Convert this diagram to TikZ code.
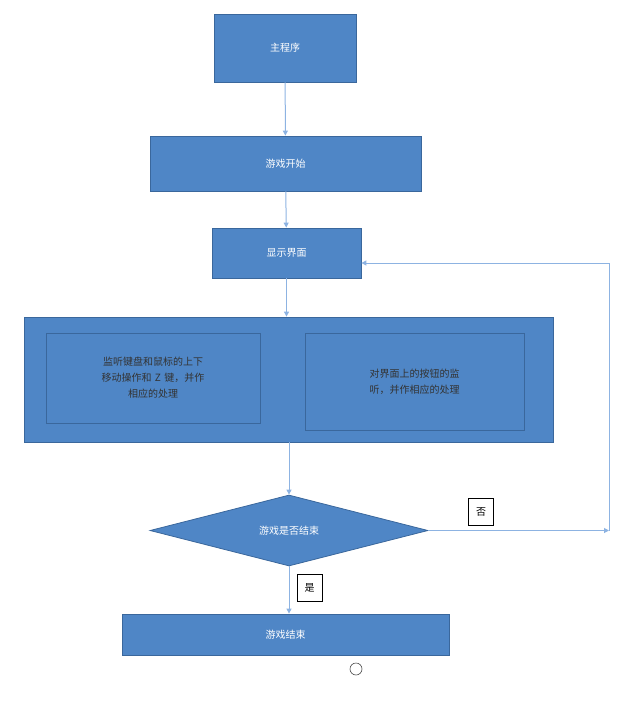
\documentclass[tikz,border=0pt]{standalone}
\usepackage{fontspec}
\setmainfont{Noto Sans CJK SC}
\usetikzlibrary{shapes.geometric,arrows.meta}
\definecolor{bfill}{HTML}{4F86C6}
\definecolor{bdraw}{HTML}{3A679C}
\definecolor{lnk}{HTML}{8DB3E2}
\tikzset{
 box/.style={draw=bdraw,fill=bfill,line width=0.8pt,text=white,font=\fontsize{10}{13}\selectfont},
 inbox/.style={draw=bdraw,fill=bfill,line width=0.8pt,text=black!80,font=\fontsize{10}{16}\selectfont,align=center},
 lab/.style={draw=black,fill=white,line width=0.6pt,font=\fontsize{10}{12}\selectfont,minimum width=25pt,minimum height=27pt},
 arr/.style={draw=lnk,line width=1pt,-{Triangle[length=5pt,width=5pt]}},
 ln/.style={draw=lnk,line width=1pt}
}
\begin{document}
\begin{tikzpicture}[x=1pt,y=-1pt]
\useasboundingbox (0,0) rectangle (641,712);
\node[box,minimum width=142pt,minimum height=68pt] (main) at (285,48) {主程序};
\node[box,minimum width=271pt,minimum height=55pt] (start) at (285.5,163.5) {游戏开始};
\node[box,minimum width=149pt,minimum height=50pt] (show) at (286.5,253) {显示界面};
\node[box,minimum width=529pt,minimum height=125pt] (big) at (288.5,379.5) {};
\node[inbox,minimum width=214pt,minimum height=90pt,text width=200pt] (l) at (153,378) {监听键盘和鼠标的上下\\移动操作和 Z 键，并作\\相应的处理};
\node[inbox,minimum width=219pt,minimum height=97pt,text width=150pt] (r) at (414.5,381.5) {对界面上的按钮的监\\听，并作相应的处理};
\node[diamond,box,aspect=3.9,minimum width=278pt,minimum height=71pt,inner sep=0pt] (dia) at (289,530.5) {游戏是否结束};
\node[box,minimum width=327pt,minimum height=41pt] (end) at (285.5,634.5) {游戏结束};
\draw[arr] (main) -- (start);
\draw[arr] (start) -- (show);
\draw[arr] (show.south) -- (show.south|-big.north);
\draw[arr] (big.south-|dia.north) -- (dia.north);
\draw[arr] (dia.south) -- (end.north-|dia.south);
\coordinate (c1) at (609,530.5);
\coordinate (c2) at (609,263);
\draw[arr] (dia.east) -- (c1);
\draw[arr] (c1) -- (c2) -- (show.east|-c2);
\node[lab] (no) at (481,512) {否};
\node[lab] (yes) at (309.5,588) {是};
\node[draw=black!70,circle,minimum size=12pt,inner sep=0pt,line width=0.6pt] (o) at (356,669) {};
\end{tikzpicture}
\end{document}
